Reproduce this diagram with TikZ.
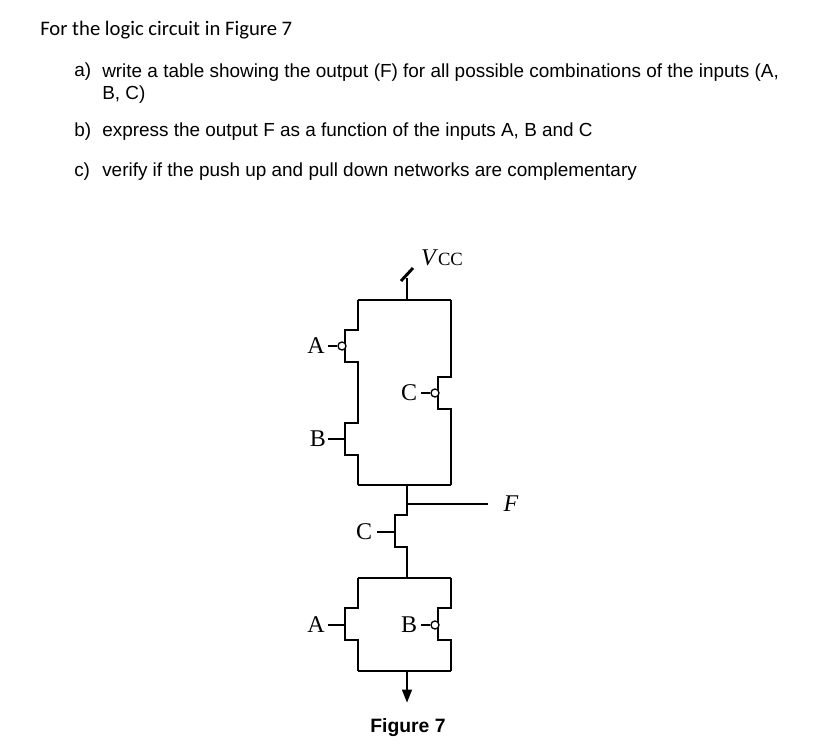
\documentclass[tikz,border=0pt]{standalone}
\usepackage{fontspec}
\setmainfont{Liberation Serif}
\newfontfamily\arial{Liberation Sans}
\newfontfamily\calib{Carlito}
\usetikzlibrary{arrows.meta}
\begin{document}
\begin{tikzpicture}[x=0.75pt,y=-0.75pt,
  wire/.style={line width=2.2pt},
  thin wire/.style={line width=1.5pt},
  bub/.style={circle,draw,line width=1pt,fill=white,inner sep=0pt,minimum size=6pt},
  lab/.style={font=\fontsize{18}{18}\selectfont,inner sep=0pt},
  txt/.style={font=\arial\fontsize{14.2}{16.5}\selectfont,anchor=base west,inner sep=0pt}]
\useasboundingbox (0,0) rectangle (821,756);
\node[anchor=base west,inner sep=0pt,font=\calib\fontsize{15.5}{18}\selectfont] (t0) at (40,36) {For the logic circuit in Figure 7};
\node[txt] (ta) at (74,77) {a)};
\node[txt,align=left,anchor=north west] (tat) at (102,63.5) {write a table showing the output (F) for all possible combinations of the inputs (A,\\B, C)};
\node[txt] (tb) at (74,137) {b)};
\node[txt] (tbt) at (102,137) {express the output F as a function of the inputs A, B and C};
\node[txt] (tc) at (74,176) {c)};
\node[txt] (tct) at (102,176) {verify if the push up and pull down networks are complementary};
% pull-up
\draw[wire] (401,281) -- (413,268);
\draw[wire] (407,300) -- (407,278);
\draw[wire] (358,300) -- (451,300);
\draw[wire] (358,300) -- (358,330) -- (345,330) -- (345,362) -- (358,362) -- (358,423) -- (345,423) -- (345,455) -- (358,455) -- (358,485);
\draw[wire] (451,300) -- (451,377) -- (438,377) -- (438,409) -- (451,409) -- (451,485);
\draw[wire] (358,485) -- (451,485);
\node[bub] (ba) at (342,346) {};
\draw[thin wire] (328,346) -- (ba);
\node[lab] (la) at (316,346) {A};
\draw[thin wire] (328,439) -- (345,439);
\node[lab] (lb) at (318,439) {B};
\node[bub] (bc) at (435,393) {};
\draw[thin wire] (421,393) -- (bc);
\node[lab] (lc) at (409,393) {C};
\node[lab] (vcc) at (442,258) {\textit{V}{\fontsize{14}{14}\selectfont CC}};
% output
\draw[wire] (407,485) -- (407,515) -- (395,515) -- (395,547) -- (407,547) -- (407,578);
\draw[thin wire] (407,504) -- (488,504);
\node[lab] (lf) at (511,504) {\textit{F}};
\draw[thin wire] (377,532) -- (395,532);
\node[lab] (lc2) at (364,532) {C};
% pull-down
\draw[wire] (358,578) -- (451,578);
\draw[wire] (358,578) -- (358,608) -- (345,608) -- (345,640) -- (358,640) -- (358,671);
\draw[wire] (451,578) -- (451,608) -- (438,608) -- (438,640) -- (451,640) -- (451,671);
\draw[wire] (358,671) -- (451,671);
\draw[thin wire] (328,625) -- (345,625);
\node[lab] (la2) at (316,625) {A};
\node[bub] (bb) at (435,625) {};
\draw[thin wire] (421,625) -- (bb);
\node[lab] (lb2) at (409,625) {B};
\draw[wire,-{Triangle[length=10pt,width=7pt]}] (407,671) -- (407,703);
\node[font=\arial\bfseries\fontsize{14.5}{16}\selectfont] (fig) at (408,728) {Figure 7};
\end{tikzpicture}
\end{document}
